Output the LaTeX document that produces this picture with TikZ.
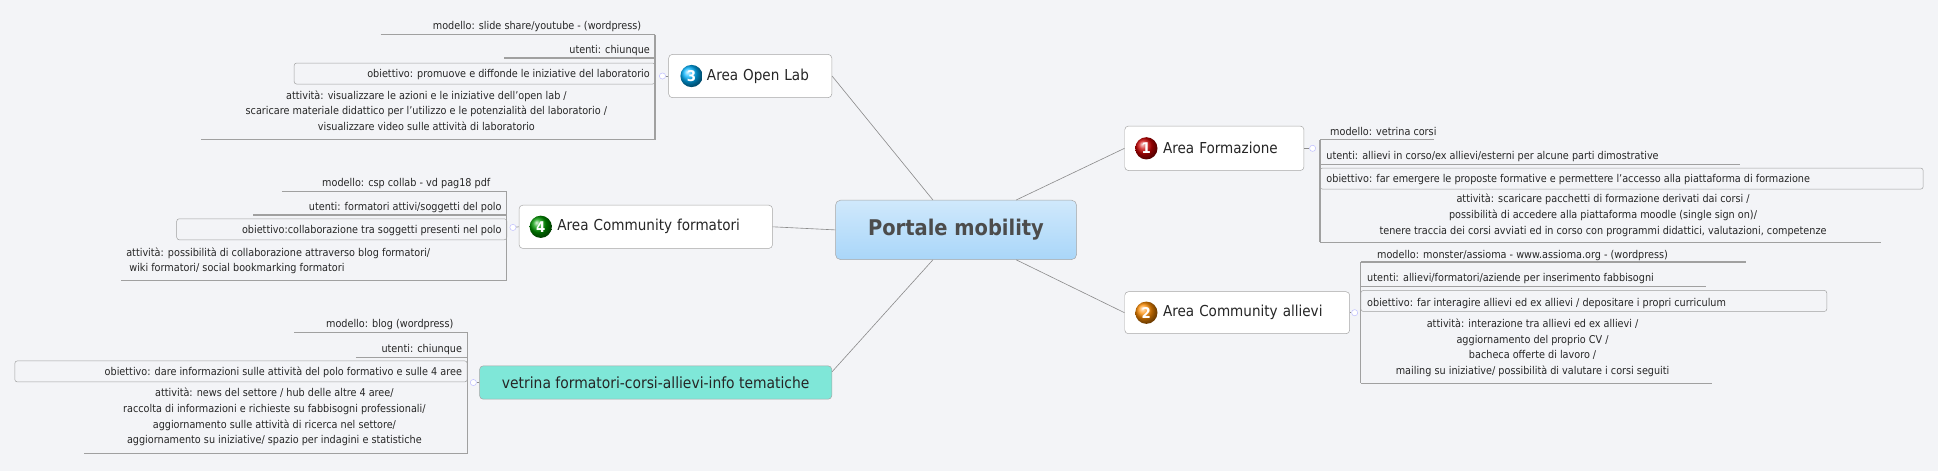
\documentclass[tikz,border=0pt]{standalone}
\usepackage{fontspec}
\setmainfont{DejaVu Sans Condensed}
\usetikzlibrary{shadings}
\definecolor{bg}{HTML}{F3F4F7}
\definecolor{ln}{HTML}{A0A0A0}
\definecolor{ctr}{HTML}{A9D6F9}
\definecolor{teal}{HTML}{7FE7D8}
\tikzset{
 leaf/.style={font=\fontsize{8.7}{12.6}\selectfont, inner sep=1pt, text=black!85},
 uline/.style={draw=ln, line width=1pt},
 topic/.style={draw=black!35, rounded corners=3pt, fill=white, font=\fontsize{12.2}{14}\selectfont, inner sep=0pt, text=black!85},
 conn/.style={draw=black!45, line width=0.5pt},
 knob/.style={circle, draw=blue!25, fill=white, inner sep=0pt, minimum size=5pt},
 icon/.style={circle, minimum size=18pt, inner sep=0pt, text=white, font=\bfseries\fontsize{12}{12}\selectfont},
}
\begin{document}
\begin{tikzpicture}[x=1pt,y=-1pt]
\fill[bg] (0,0) rectangle (1568,381);
\useasboundingbox (0,0) rectangle (1568,381);
% central
\node[draw=black!35, rounded corners=4pt, top color=ctr!55, bottom color=ctr, minimum width=195, minimum height=48, font=\bfseries\fontsize{17.5}{17}\selectfont, text=black!70] (c) at (773.5,186) {Portale mobility};
% topics
\node[topic, minimum width=132, minimum height=35, text width=110pt, align=left] (t3) at (607,61.5) {\mbox{\hspace*{20pt}Area Open Lab}};
\node[icon, ball color=cyan!70!blue] (i3) at (559.5,61.5) {3};
\node[topic, minimum width=145, minimum height=36, text width=123pt, align=left] (t1) at (982.5,120) {\mbox{\hspace*{20pt}Area Formazione}};
\node[icon, ball color=red!80!black] (i1) at (927.5,120) {1};
\node[topic, minimum width=205, minimum height=35, text width=183pt, align=left] (t4) at (522.5,183.5) {\mbox{\hspace*{20pt}Area Community formatori}};
\node[icon, ball color=green!60!black] (i4) at (437.5,183.5) {4};
\node[topic, minimum width=182, minimum height=34, text width=160pt, align=left] (t2) at (1001,253) {\mbox{\hspace*{20pt}Area Community allievi}};
\node[icon, ball color=orange!90!yellow] (i2) at (927.5,253) {2};
\node[topic, fill=teal, minimum width=285, minimum height=27, font=\fontsize{12.5}{14}\selectfont] (t5) at (530.5,309.5) {vetrina formatori-corsi-allievi-info tematiche};
\draw[conn] (c.north west)++(79,0) coordinate (c3) -- (t3.east);
\draw[conn] (c.north east)++(-49,0) coordinate (c1) -- (t1.west);
\draw[conn] (c.west) -- (t4.east);
\draw[conn] (c.south east)++(-49,0) coordinate (c2) -- (t2.west);
\draw[conn] (c.south west)++(79,0) coordinate (c5) -- ([yshift=-5]t5.north east);

% ---- Open Lab leaves
\draw[uline] (530,28) -- (530,113);
\node[leaf, anchor=base east] (a1) at (520,24) {modello: slide share/youtube - (wordpress)};
\draw[uline] (308,28) -- (530,28);
\node[leaf, anchor=base east] (a2) at (527,43) {utenti: chiunque};
\draw[uline] (408,47) -- (530,47);
\node[leaf, anchor=base east] (a3) at (527,63) {obiettivo: promuove e diffonde le iniziative del laboratorio};
\draw[draw=ln, rounded corners=2pt] (238,51) rectangle (530,68);
\node[leaf, align=center, anchor=north] (a4) at (345,72) {attività: visualizzare le azioni e le iniziative dell'open lab /\\scaricare materiale didattico per l'utilizzo e le potenzialità del laboratorio /\\visualizzare video sulle attività di laboratorio};
\draw[uline] (163,113) -- (530,113);
\node[knob] (k3) at (536,61.5) {};
\draw[conn] (t3.west) -- (k3);

% ---- Formazione leaves
\draw[uline] (1068,113) -- (1068,196);
\node[leaf, anchor=base west] (f1) at (1075,110) {modello: vetrina corsi};
\draw[uline] (1068,113) -- (1160,113);
\node[leaf, anchor=base west] (f2) at (1072,129) {utenti: allievi in corso/ex allievi/esterni per alcune parti dimostrative};
\draw[uline] (1068,133) -- (1408,133);
\node[leaf, anchor=base west] (f3) at (1072,148) {obiettivo: far emergere le proposte formative e permettere l'accesso alla piattaforma di formazione};
\draw[draw=ln, rounded corners=2pt] (1068,136) rectangle (1556,153);
\node[leaf, align=center, anchor=north] (f4) at (1297,156) {attività: scaricare pacchetti di formazione derivati dai corsi /\\possibilità di accedere alla piattaforma moodle (single sign on)/\\tenere traccia dei corsi avviati ed in corso con programmi didattici, valutazioni, competenze};
\draw[uline] (1068,196) -- (1522,196);
\node[knob] (k1) at (1062,120) {};
\draw[conn] (t1.east) -- (k1);

% ---- Community formatori leaves
\draw[uline] (410,155) -- (410,227);
\node[leaf, anchor=base east] (b1) at (398,151) {modello: csp collab - vd pag18 pdf};
\draw[uline] (228,155) -- (410,155);
\node[leaf, anchor=base east] (b2) at (407,170) {utenti: formatori attivi/soggetti del polo};
\draw[uline] (205,174) -- (410,174);
\node[leaf, anchor=base east] (b3) at (407,189) {obiettivo:collaborazione tra soggetti presenti nel polo};
\draw[draw=ln, rounded corners=2pt] (143,177) rectangle (410,194);
\node[leaf, align=left, anchor=north west] (b4) at (101,199) {attività: possibilità di collaborazione attraverso blog formatori/\\\ wiki formatori/ social bookmarking formatori};
\draw[uline] (98,227) -- (410,227);
\node[knob] (k4) at (415,184) {};
\draw[conn] (t4.west) -- (k4);

% ---- Community allievi leaves
\draw[uline] (1101,212) -- (1101,310);
\node[leaf, anchor=base west] (d1) at (1113,209) {modello: monster/assioma - www.assioma.org - (wordpress)};
\draw[uline] (1101,212) -- (1413,212);
\node[leaf, anchor=base west] (d2) at (1105,228) {utenti: allievi/formatori/aziende per inserimento fabbisogni};
\draw[uline] (1101,232) -- (1380,232);
\node[leaf, anchor=base west] (d3) at (1105,248) {obiettivo: far interagire allievi ed ex allievi / depositare i propri curriculum};
\draw[draw=ln, rounded corners=2pt] (1101,235) rectangle (1478,252);
\node[leaf, align=center, anchor=north] (d4) at (1240,257) {attività: interazione tra allievi ed ex allievi /\\aggiornamento del proprio CV /\\bacheca offerte di lavoro /\\mailing su iniziative/ possibilità di valutare i corsi seguiti};
\draw[uline] (1101,310) -- (1385,310);
\node[knob] (k2) at (1096,253) {};
\draw[conn] (t2.east) -- (k2);

% ---- vetrina leaves
\draw[uline] (378,269) -- (378,367);
\node[leaf, anchor=base east] (e1) at (368,265) {modello: blog (wordpress)};
\draw[uline] (238,269) -- (378,269);
\node[leaf, anchor=base east] (e2) at (375,285) {utenti: chiunque};
\draw[uline] (288,289) -- (378,289);
\node[leaf, anchor=base east] (e3) at (375,304) {obiettivo: dare informazioni sulle attività del polo formativo e sulle 4 aree};
\draw[draw=ln, rounded corners=2pt] (12,292) rectangle (378,309);
\node[leaf, align=center, anchor=north] (e4) at (222,313) {attività: news del settore / hub delle altre 4 aree/\\raccolta di informazioni e richieste su fabbisogni professionali/\\aggiornamento sulle attività di ricerca nel settore/\\aggiornamento su iniziative/ spazio per indagini e statistiche};
\draw[uline] (68,367) -- (378,367);
\node[knob] (k5) at (383,309.5) {};
\draw[conn] (t5.west) -- (k5);
\end{tikzpicture}
\end{document}
